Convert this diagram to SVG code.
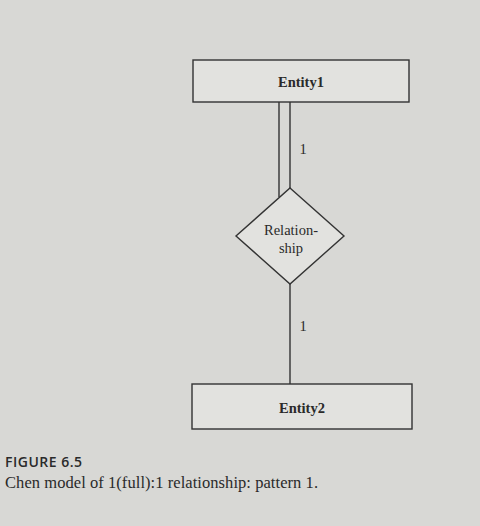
<svg xmlns="http://www.w3.org/2000/svg" width="480" height="526" viewBox="0 0 480 526">
<style>
.bg{fill:#d8d8d5}
.box{fill:#e2e2df;stroke:#333;stroke-width:1.4}
.ln{stroke:#333;stroke-width:1.4;fill:none}
.t{font-family:"Liberation Serif",serif;font-size:14.5px;fill:#2a2a2a;text-anchor:middle}
.b{font-weight:bold}
</style>
<rect class="bg" x="0" y="0" width="480" height="526"/>
<g id="connectors">
<line class="ln" x1="279" y1="102" x2="279" y2="197"/>
<line class="ln" x1="290" y1="102" x2="290" y2="188"/>
<text class="t" x="303" y="154">1</text>
<line class="ln" x1="290" y1="284" x2="290" y2="384"/>
<text class="t" x="303" y="331">1</text>
</g>
<g id="entity1">
<rect class="box" x="193" y="60" width="216" height="42"/>
<text class="t b" x="301" y="87">Entity1</text>
</g>
<g id="relationship">
<polygon class="box" points="290,188 344,236 290,284 236,236"/>
<text class="t" x="291" y="235">Relation-</text>
<text class="t" x="291" y="253">ship</text>
</g>
<g id="entity2">
<rect class="box" x="192" y="384" width="220" height="45"/>
<text class="t b" x="302" y="413">Entity2</text>
</g>
<g id="caption">
<text x="5" y="467" style="font-family:'Open Sans',sans-serif;font-size:14px;font-weight:600;fill:#2a2a2a" textLength="77">FIGURE 6.5</text>
<text x="5" y="488" style="font-family:'Liberation Serif',serif;font-size:16.5px;fill:#2a2a2a" textLength="313">Chen model of 1(full):1 relationship: pattern 1.</text>
</g>
</svg>
